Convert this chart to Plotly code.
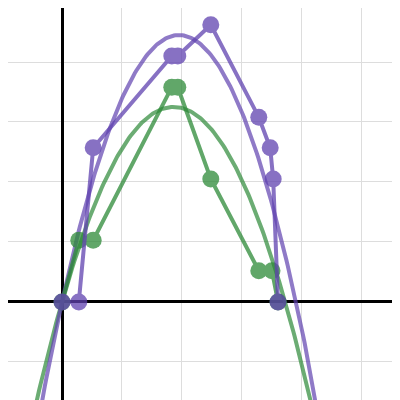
import numpy as np
import plotly.graph_objects as go

purple_x = [0, 0.28, 0.52, 1.83, 1.93, 2.48, 3.28, 3.47, 3.52, 3.6]
purple_y = [0, 0, 2.57, 4.1, 4.1, 4.62, 3.08, 2.57, 2.05, 0]
green_x = [0, 0.28, 0.52, 1.83, 1.93, 2.48, 3.28, 3.5, 3.6]
green_y = [0, 1.03, 1.03, 3.58, 3.58, 2.05, 0.52, 0.52, 0]
# parabola coefficients y = a*x*(r - x)
purple_fit = (1.17, 3.9)
green_fit = (0.94, 3.72)

PUR = "#6042b0"
GRN = "#2d8a38"
fig = go.Figure()
xs = np.linspace(-1.2, 5.8, 300)
for (a, r), c in [(green_fit, GRN), (purple_fit, PUR)]:
    fig.add_trace(go.Scatter(x=xs, y=a * xs * (r - xs), mode="lines",
                             line=dict(color=c, width=4), opacity=0.7))
fig.add_trace(go.Scatter(x=green_x, y=green_y, mode="lines+markers",
                         line=dict(color=GRN, width=4), marker=dict(size=17, color=GRN),
                         opacity=0.75))
fig.add_trace(go.Scatter(x=purple_x, y=purple_y, mode="lines+markers",
                         line=dict(color=PUR, width=4), marker=dict(size=17, color=PUR),
                         opacity=0.75))
ax = dict(showticklabels=False, showgrid=True, gridcolor="#dddddd", dtick=1,
          zeroline=True, zerolinecolor="black", zerolinewidth=2.5, showline=False)
fig.update_layout(width=400, height=400, margin=dict(l=0, r=0, t=0, b=0),
                  plot_bgcolor="white", paper_bgcolor="white", showlegend=False,
                  xaxis=dict(range=[-0.9, 5.767], **ax),
                  yaxis=dict(range=[-1.767, 4.9], **ax))
fig.write_html("out.html")
